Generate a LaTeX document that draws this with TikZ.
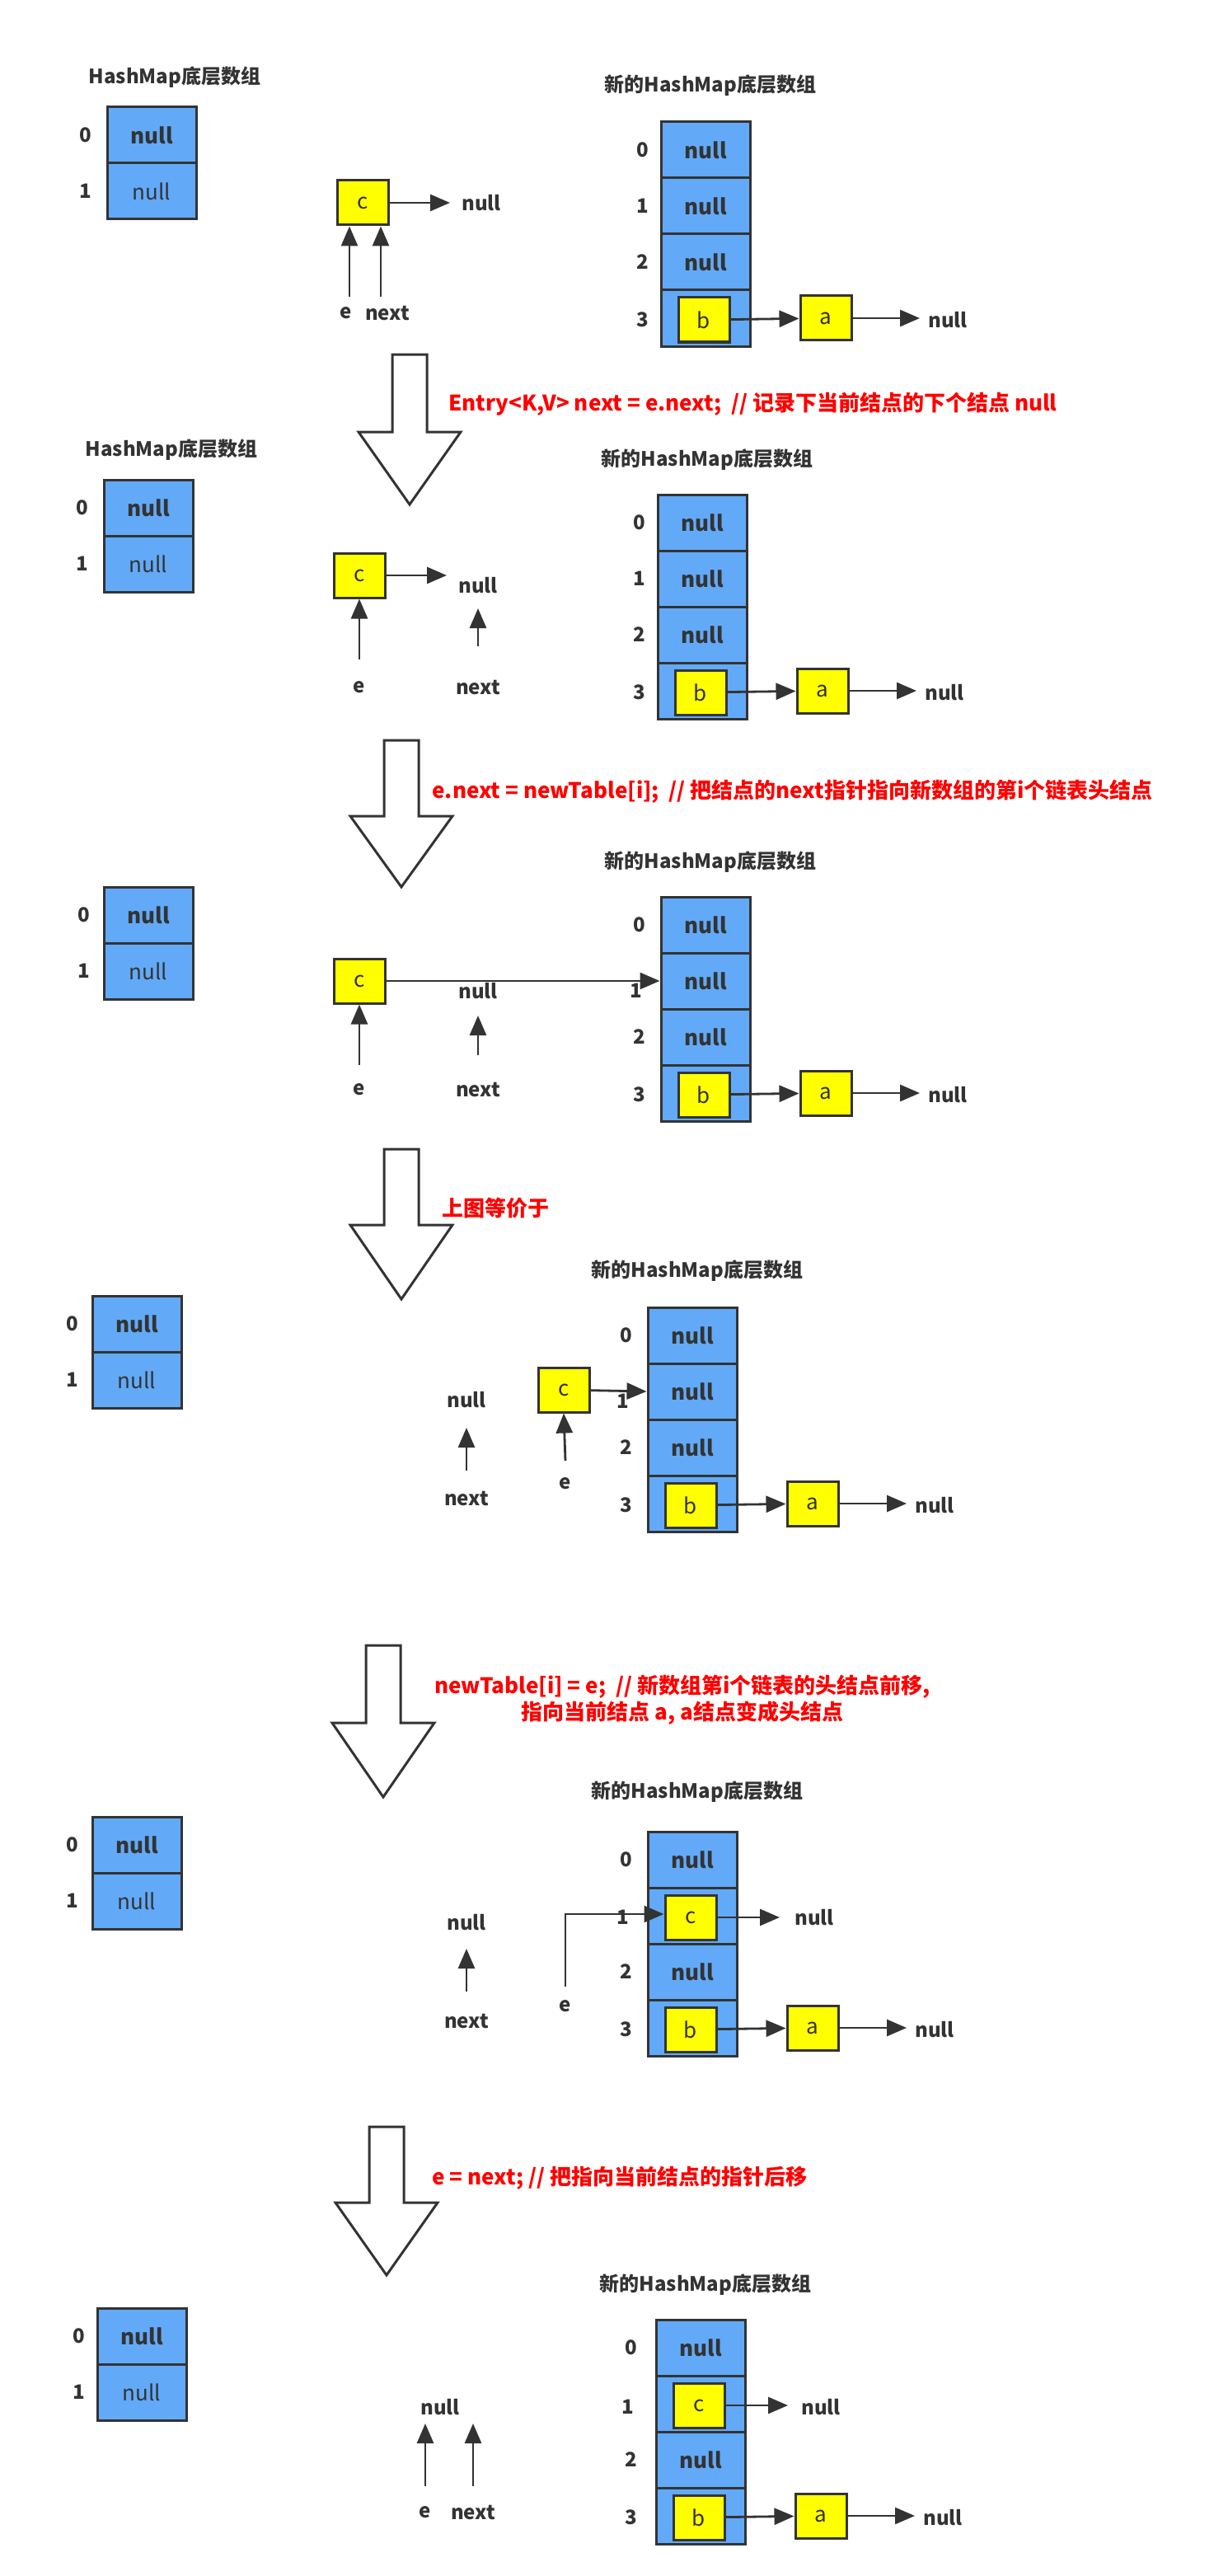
\documentclass[tikz,border=0pt]{standalone}
\usepackage{fontspec}
\setmainfont{Noto Sans CJK SC}
\usetikzlibrary{arrows.meta}
\definecolor{cellblue}{HTML}{62AAF8}
\definecolor{edge}{HTML}{333333}
\definecolor{ylw}{HTML}{FFFF00}
\definecolor{txt}{HTML}{333333}
\definecolor{redt}{HTML}{FF0000}
\tikzset{
 cell/.style={draw=edge,fill=cellblue,line width=1.5pt,minimum width=54pt,minimum height=34pt,inner sep=0pt,text=txt,font=\bfseries\fontsize{13}{13}\selectfont},
 cellr/.style={cell,font=\fontsize{13}{13}\selectfont},
 ent/.style={draw=edge,fill=ylw,line width=1.5pt,minimum width=31pt,minimum height=27pt,inner sep=0pt,text=txt,font=\fontsize{13}{13}\selectfont},
 lbl/.style={text=txt,font=\bfseries\fontsize{12}{12}\selectfont,inner sep=1pt},
 ttl/.style={text=txt,font=\bfseries\fontsize{12}{12}\selectfont},
 red/.style={text=redt,font=\bfseries\fontsize{13}{16}\selectfont,inner sep=0pt},
 arr/.style={-{Triangle[length=12pt,width=10pt]},line width=1.4pt,draw=edge},
 hollow/.style={draw=edge,line width=1.5pt,fill=white,line join=miter}
}
\newcommand\oldarr[4]{%
 \node[cell] (#1o0) at (#2+27,#3+17) {null};
 \node[cellr] (#1o1) at (#2+27,#3+51) {null};
 \node[lbl] (#1ol0) at (#4,#3+17) {0};
 \node[lbl] (#1ol1) at (#4,#3+51) {1};}
\newcommand\newarr[4]{%
 \node[cell] (#1n0) at (#2+28,#3+17) {null};
 \node[cell] (#1n1) at (#2+28,#3+51) {null};
 \node[cell] (#1n2) at (#2+28,#3+85) {null};
 \node[cell] (#1n3) at (#2+28,#3+119) {};
 \node[lbl] (#1nl0) at (#4,#3+17) {0};
 \node[lbl] (#1nl2) at (#4,#3+85) {2};
 \node[lbl] (#1nl3) at (#4,#3+120) {3};
 \node[ent] (#1b) at (#2+27,#3+120) {b};
 \node[ent] (#1a) at (#2+101,#3+119) {a};
 \coordinate (#1ae) at (#2+158,#3+119);
 \node[lbl,anchor=west] (#1an) at (#2+162,#3+120) {null};
 \draw[arr] (#1b) -- (#1a);
 \draw[arr] (#1a) -- (#1ae);}
\newcommand\bigarrow[4]{%
 \draw[hollow] (#1-10.5,#2) -- (#1+10.5,#2) -- (#1+10.5,#3) -- (#1+31,#3) -- (#1,#4) -- (#1-31,#3) -- (#1-10.5,#3) -- cycle;}
\begin{document}
\begin{tikzpicture}[x=1pt,y=-1pt]
\useasboundingbox (0,0) rectangle (736,1562.5);
%================ panel 1
\node[ttl] (t1) at (106,47) {HashMap底层数组};
\oldarr{p1}{65}{65}{52}
\node[ttl] (nt1) at (431,52) {新的HashMap底层数组};
\newarr{p1}{400}{74}{390}
\node[lbl] (p1l1) at (390,125) {1};
\node[ent] (p1c) at (220,123) {c};
\coordinate (p1ce) at (273,123);
\node[lbl] (p1cn) at (292,123) {null};
\draw[arr] (p1c) -- (p1ce);
\coordinate (p1e0) at (212,180); \coordinate (p1x0) at (231,180);
\draw[arr] (p1e0) -- (p1e0 |- p1c.south);
\draw[arr] (p1x0) -- (p1x0 |- p1c.south);
\node[lbl] (p1e) at (210,190) {e};
\node[lbl] (p1x) at (235,190) {next};
\bigarrow{248.5}{215}{262}{306}
\node[red,anchor=west] (r1) at (272,245) {Entry<K,V> next = e.next;\ \ // 记录下当前结点的下个结点 null};
%================ panel 2
\node[ttl] (t2) at (104,273) {HashMap底层数组};
\oldarr{p2}{63}{291}{50}
\node[ttl] (nt2) at (429,279) {新的HashMap底层数组};
\newarr{p2}{398}{300}{388}
\node[lbl] (p2l1) at (388,351) {1};
\node[ent] (p2c) at (218,349) {c};
\coordinate (p2ce) at (271,349);
\node[lbl] (p2cn) at (290,355) {null};
\draw[arr] (p2c) -- (p2ce);
\coordinate (p2e0) at (218,400);
\draw[arr] (p2e0) -- (p2c.south);
\coordinate (p2x0) at (290,392); \coordinate (p2x1) at (290,369);
\draw[arr] (p2x0) -- (p2x1);
\node[lbl] (p2e) at (218,417) {e};
\node[lbl] (p2x) at (290,417) {next};
\bigarrow{243.5}{449}{495}{538}
\node[red,anchor=west] (r2) at (262,480) {e.next = newTable[i];\ \ // 把结点的next指针指向新数组的第i个链表头结点};
%================ panel 3
\oldarr{p3}{63}{538}{51}
\node[ttl] (nt3) at (431,523) {新的HashMap底层数组};
\newarr{p3}{400}{544}{388}
\node[lbl] (p3l1) at (386,601) {1};
\node[ent] (p3c) at (218,595) {c};
\node[lbl] (p3cn) at (290,601) {null};
\coordinate (p3m) at (318,595);
\draw[arr] (p3c) -- (p3m) -- (p3m |- p3n1.west) -- (p3n1.west);
\coordinate (p3e0) at (218,646);
\draw[arr] (p3e0) -- (p3c.south);
\coordinate (p3x0) at (290,640); \coordinate (p3x1) at (290,616);
\draw[arr] (p3x0) -- (p3x1);
\node[lbl] (p3e) at (218,661) {e};
\node[lbl] (p3x) at (290,661) {next};
\bigarrow{243.5}{697}{743}{788}
\node[red,anchor=west] (r3) at (268,733) {上图等价于};
%================ panel 4
\oldarr{p4}{56}{786}{44}
\node[ttl] (nt4) at (423,771) {新的HashMap底层数组};
\newarr{p4}{392}{793}{380}
\node[lbl] (p4l1) at (378,850) {1};
\node[ent] (p4c) at (342,843) {c};
\draw[arr] (p4c) -- (p4n1.west);
\coordinate (p4e0) at (343,886);
\draw[arr] (p4e0) -- (p4c.south);
\node[lbl] (p4e) at (343,900) {e};
\node[lbl] (p4nl) at (283,849) {null};
\coordinate (p4x0) at (283,892); \coordinate (p4x1) at (283,866);
\draw[arr] (p4x0) -- (p4x1);
\node[lbl] (p4x) at (283,909) {next};
\bigarrow{232.5}{998}{1045}{1090}
\node[red,align=center] (r4) at (414,1031) {newTable[i] = e;\ \ // 新数组第i个链表的头结点前移,\\指向当前结点 a, a结点变成头结点};
%================ panel 5
\oldarr{p5}{56}{1102}{44}
\node[ttl] (nt5) at (423,1087) {新的HashMap底层数组};
\newarr{p5}{392}{1111}{380}
\node[lbl] (p5l1) at (378,1163) {1};
\node[ent] (p5c) at (419,1163) {c};
\coordinate (p5ce) at (473,1163);
\node[lbl] (p5cn) at (494,1163) {null};
\draw[arr] (p5c) -- (p5ce);
\coordinate (p5e0) at (343,1205); \coordinate (p5e1) at (343,1161);
\draw[arr] (p5e0) -- (p5e1) -- (p5c.west |- p5e1);
\node[lbl] (p5e) at (343,1217) {e};
\node[lbl] (p5nl) at (283,1166) {null};
\coordinate (p5x0) at (283,1208); \coordinate (p5x1) at (283,1182);
\draw[arr] (p5x0) -- (p5x1);
\node[lbl] (p5x) at (283,1226) {next};
\bigarrow{234.5}{1290}{1336}{1380}
\node[red,anchor=west] (r5) at (262,1321) {e = next; // 把指向当前结点的指针后移};
%================ panel 6
\oldarr{p6}{59}{1400}{48}
\node[ttl] (nt6) at (428,1386) {新的HashMap底层数组};
\newarr{p6}{397}{1407}{383}
\node[lbl] (p6l1) at (381,1460) {1};
\node[ent] (p6c) at (424,1459) {c};
\coordinate (p6ce) at (478,1459);
\node[lbl] (p6cn) at (498,1460) {null};
\draw[arr] (p6c) -- (p6ce);
\node[lbl] (p6nl) at (267,1460) {null};
\coordinate (p6e0) at (258,1508); \coordinate (p6e1) at (258,1470);
\coordinate (p6x0) at (287,1508); \coordinate (p6x1) at (287,1470);
\draw[arr] (p6e0) -- (p6e1);
\draw[arr] (p6x0) -- (p6x1);
\node[lbl] (p6e) at (258,1524) {e};
\node[lbl] (p6x) at (287,1524) {next};
\end{tikzpicture}
\end{document}
